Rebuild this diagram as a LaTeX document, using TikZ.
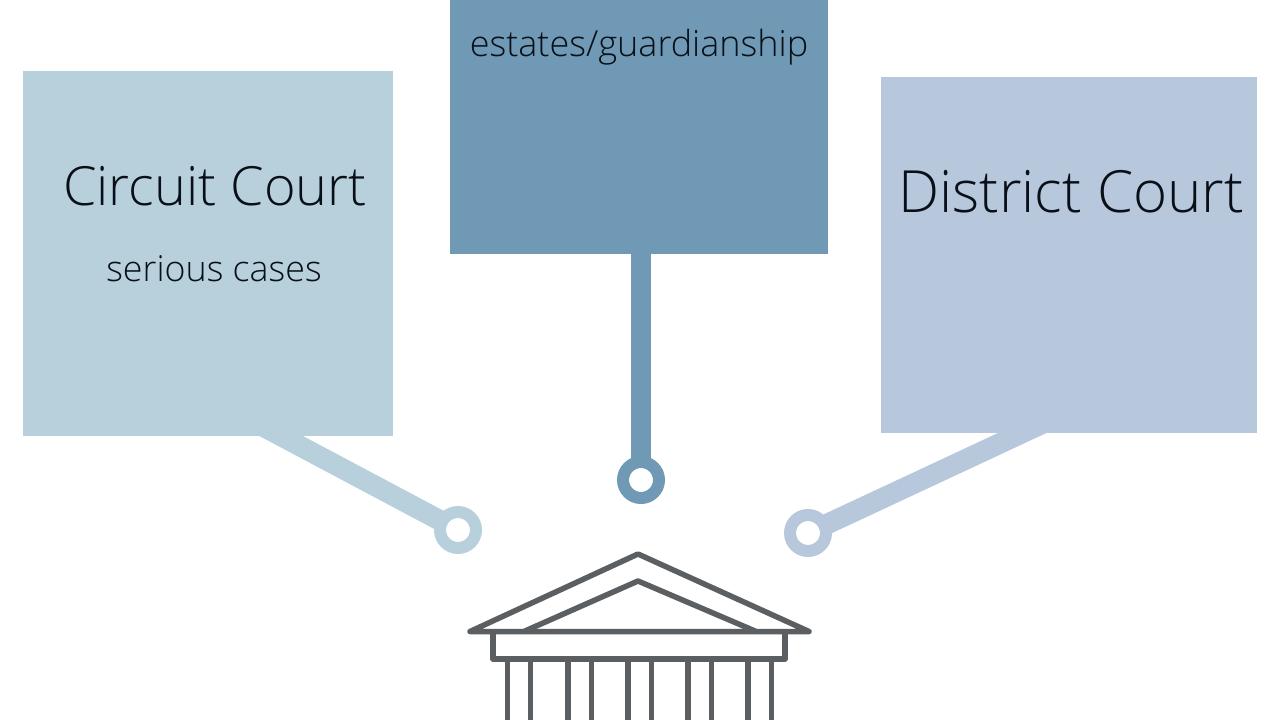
\documentclass[tikz,border=0pt]{standalone}
\usepackage{fontspec}
\setmainfont{Open Sans Light}
\definecolor{boxa}{HTML}{B7D0DC}
\definecolor{boxb}{HTML}{6F99B4}
\definecolor{boxc}{HTML}{B8C8DC}
\definecolor{ink}{HTML}{080F18}
\definecolor{bldg}{HTML}{5C5F62}
\tikzset{
  panel/.style={draw=none,inner sep=0pt,outer sep=0pt,anchor=north west},
  ring/.style={circle,draw=#1,fill=white,line width=12pt,minimum size=36pt,inner sep=0pt,outer sep=0pt},
  link/.style={draw=#1,line width=20.5pt},
  title/.style={text=ink,inner sep=0pt,font=\fontsize{#1}{#1}\selectfont},
  bline/.style={draw=bldg,line width=5.5pt,line join=round,line cap=round}
}
\begin{document}
\begin{tikzpicture}[x=1pt,y=-1pt]
\path[use as bounding box,fill=white] (0,0) rectangle (1280,720);
\node[panel,fill=boxa,minimum width=370pt,minimum height=365pt] (circuit) at (23,71) {};
\node[panel,fill=boxb,minimum width=378pt,minimum height=254pt] (probate) at (450,0) {};
\node[panel,fill=boxc,minimum width=376pt,minimum height=356pt] (district) at (881,77) {};
\node[title=54] (t1) at (215,186) {Circuit Court};
\node[title=35.8] (t2) at (214,269) {serious cases};
\node[title=36] (t3) at (639,47) {estates/guardianship};
\node[title=58.2] (t4) at (1071,192) {District Court};
\node[ring=boxa] (r1) at (458,530) {};
\node[ring=boxb] (r2) at (641,480) {};
\node[ring=boxc] (r3) at (808,533) {};
\coordinate (c1) at (251,420);
\coordinate (c2) at (641,248);
\coordinate (c3) at (1050,420);
\draw[link=boxa] (c1) -- (r1);
\draw[link=boxb] (c2) -- (r2);
\draw[link=boxc] (c3) -- (r3);
% building
\draw[bline] (470,631.5) -- (638,554) -- (809,631.5) -- cycle;
\draw[bline] (525,631) -- (638,581) -- (755,631);
\draw[bline] (493,632) -- (493,659) -- (785,659) -- (785,632);
\foreach \cx in {507.5,530.5,568,591.5,628,651.5,688,711.5,748,771.5}
  \draw[draw=bldg,line width=5.5pt] (\cx,659) -- (\cx,725);
\end{tikzpicture}
\end{document}
